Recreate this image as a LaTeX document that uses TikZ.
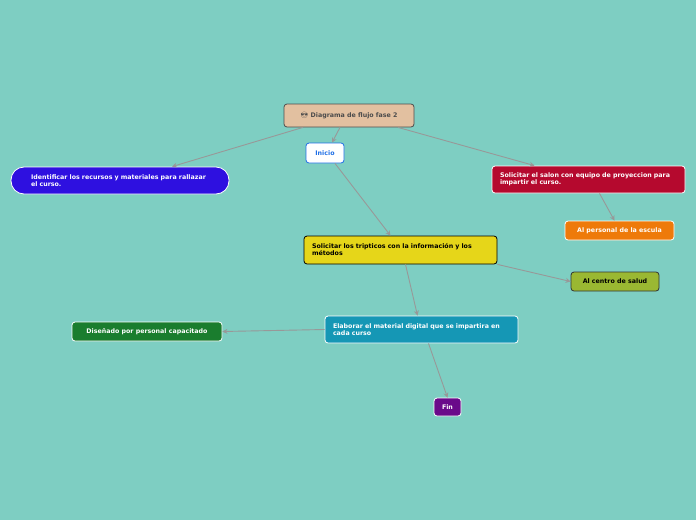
\documentclass[tikz,border=0pt]{standalone}
\usetikzlibrary{arrows.meta}
\usepackage{fontspec}
\setmainfont{DejaVu Sans}
\newfontfamily\emo{Noto Emoji}
\begin{document}
\begin{tikzpicture}[x=1pt,y=-1pt,
  box/.style={rounded corners=3pt,draw=white,line width=0.8pt,font=\bfseries\fontsize{6.3}{7}\selectfont,text=white,inner sep=0pt,align=center},
  wide/.style={align=left,inner xsep=8pt,text width=#1},
  con/.style={draw=gray!85!black!70,line width=0.9pt,-{Stealth[length=5pt,width=5pt]}}]
\fill[fill={rgb,255:red,126;green,206;blue,194}] (0,0) rectangle (696,520);
\definecolor{tan}{RGB}{226,192,160}
\node[box,minimum width=130pt,minimum height=23pt,fill=tan,draw=black!70,text=black!70] (t) at (349,115.5) {{\emo 😎} Diagrama de flujo fase 2};
\node[box,minimum width=38pt,minimum height=20pt,fill=white,draw={rgb,255:red,30;green,110;blue,230},text={rgb,255:red,30;green,110;blue,230}] (ini) at (325,153) {Inicio};
\node[box,wide=178pt,inner xsep=20pt,rounded corners=13pt,minimum height=27pt,fill={rgb,255:red,46;green,16;blue,224}] (id) at (120,180.5) {Identificar los recursos y materiales para rallazar el curso.};
\node[box,wide=177pt,minimum height=27pt,fill={rgb,255:red,181;green,9;blue,46}] (sal) at (588.5,179.5) {Solicitar el salon con equipo de proyeccion para impartir el curso.};
\node[box,minimum width=109pt,minimum height=19pt,fill={rgb,255:red,238;green,122;blue,10}] (per) at (619.5,230.5) {Al personal de la escula};
\node[box,wide=177pt,minimum height=28pt,fill={rgb,255:red,230;green,214;blue,25},draw=black,text=black] (tri) at (400.5,250) {Solicitar los tripticos con la informaci\'on y los m\'etodos};
\node[box,minimum width=88pt,minimum height=19pt,fill={rgb,255:red,154;green,184;blue,50},draw=black!80,text=black] (cen) at (615,281.5) {Al centro de salud};
\node[box,wide=177pt,minimum height=27pt,fill={rgb,255:red,21;green,151;blue,181}] (ela) at (421.5,329.5) {Elaborar el material digital que se impartira en cada curso};
\node[box,minimum width=150pt,minimum height=19pt,fill={rgb,255:red,26;green,125;blue,46}] (dis) at (147,331.5) {Dise\~nado por personal capacitado};
\node[box,minimum width=27pt,minimum height=18pt,fill={rgb,255:red,106;green,10;blue,138}] (fin) at (447.5,407) {Fin};
\draw[con] ([xshift=-46pt]t.south) -- ([xshift=52pt]id.north);
\draw[con] ([xshift=-9pt]t.south) -- ([xshift=7pt]ini.north);
\draw[con] ([xshift=49pt]t.south) -- ([xshift=-54pt]sal.north);
\draw[con] ([xshift=10pt]ini.south) -- ([xshift=-10pt]tri.north);
\draw[con] ([xshift=11pt]sal.south) -- ([xshift=-5pt]per.north);
\draw[con] (tri.south east) -- (cen.west);
\draw[con] ([xshift=5pt]tri.south) -- ([xshift=-4pt]ela.north);
\draw[con] (ela.west) -- (dis.east);
\draw[con] ([xshift=7pt]ela.south) -- (fin.north);
\end{tikzpicture}
\end{document}
